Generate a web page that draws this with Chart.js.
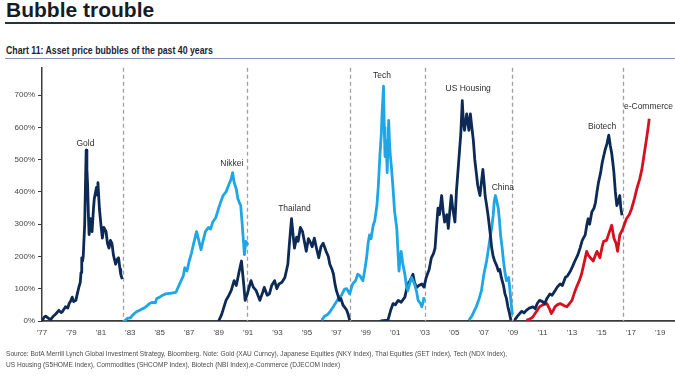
<!DOCTYPE html>
<html lang="en">
<head>
<meta charset="UTF-8">
<title>Bubble trouble</title>
<script src="https://cdn.jsdelivr.net/npm/chart.js"></script>
<style>
  body { margin: 0; width: 675px; height: 377px; background: #fff; overflow: hidden; position: relative; font-family: "Liberation Sans", Arial, sans-serif; }
  #title { position: absolute; left: 6px; top: -2px; font: bold 21px "Liberation Sans", Arial, sans-serif; color: #151c26; }
  #rule1 { position: absolute; left: 5px; right: 0; top: 22px; height: 2px; background: #27323f; }
  #subtitle { position: absolute; left: 6px; top: 45px; font: bold 10px "Liberation Sans", Arial, sans-serif; color: #1b2430;
              transform: scaleX(0.875); transform-origin: 0 0; white-space: nowrap; }
  #rule2 { position: absolute; left: 5px; right: 0; top: 58px; height: 1px; background: #7f97b0; }
  #wrap { position: absolute; left: 0; top: 60px; width: 675px; height: 290px; }
  #source { position: absolute; left: 6px; top: 349px; font: 7.7px "Liberation Sans", Arial, sans-serif; color: #4a4a4a; line-height: 10.8px;
            white-space: nowrap; transform: scaleX(0.855); transform-origin: 0 0; }
</style>
</head>
<body>
<div id="title">Bubble trouble</div>
<div id="rule1"></div>
<div id="subtitle">Chart 11: Asset price bubbles of the past 40 years</div>
<div id="rule2"></div>
<div id="wrap"><canvas id="chart" width="675" height="290"></canvas></div>
<div id="source">Source: BofA Merrill Lynch Global Investment Strategy, Bloomberg. Note: Gold (XAU Curncy), Japanese Equities (NKY Index), Thai Equities (SET Index), Tech (NDX Index),<br>US Housing (S5HOME Index), Commodities (SHCOMP Index), Biotech (NBI Index),e-Commerce (DJECOM Index)</div>

<script>
// [year, % gain from start of episode]
const gold = [[1977.0,0],[1977.15,12],[1977.25,15],[1977.45,8],[1977.6,5],[1977.75,14],[1977.9,20],[1978.05,28],[1978.15,33],[1978.3,26],[1978.4,30],[1978.6,44],[1978.75,40],[1978.85,55],[1978.95,62],[1979.05,74],[1979.15,60],[1979.3,64],[1979.4,85],[1979.5,104],[1979.6,120],[1979.65,150],[1979.7,196],[1979.75,185],[1979.8,200],[1979.9,300],[1980.0,530],[1980.05,470],[1980.1,420],[1980.15,330],[1980.2,268],[1980.3,317],[1980.4,277],[1980.5,350],[1980.55,378],[1980.62,395],[1980.7,414],[1980.75,390],[1980.8,429],[1980.9,348],[1981.0,300],[1981.1,257],[1981.2,290],[1981.35,277],[1981.45,240],[1981.55,226],[1981.65,250],[1981.75,241],[1981.85,205],[1982.0,176],[1982.1,190],[1982.2,196],[1982.3,160],[1982.35,145],[1982.45,130]];
const nikkei = [[1982.6,0],[1982.8,8],[1983.0,10],[1983.2,20],[1983.4,28],[1983.7,35],[1984.0,42],[1984.3,54],[1984.5,58],[1984.7,56],[1984.8,70],[1985.0,74],[1985.2,80],[1985.4,84],[1985.7,86],[1986.1,89],[1986.4,120],[1986.6,140],[1986.7,165],[1986.85,155],[1987.0,186],[1987.15,210],[1987.3,240],[1987.5,277],[1987.65,250],[1987.8,221],[1987.95,250],[1988.1,277],[1988.3,290],[1988.45,285],[1988.6,307],[1988.8,320],[1989.0,350],[1989.15,370],[1989.3,389],[1989.5,400],[1989.7,424],[1989.85,440],[1989.95,460],[1990.05,430],[1990.2,409],[1990.3,380],[1990.4,368],[1990.5,358],[1990.6,300],[1990.75,206],[1990.85,247],[1991.0,236]];
const thailand = [[1989.0,0],[1989.2,20],[1989.5,64],[1989.7,80],[1989.85,94],[1990.05,125],[1990.2,110],[1990.4,155],[1990.55,186],[1990.7,115],[1990.8,64],[1990.95,84],[1991.1,110],[1991.2,125],[1991.35,105],[1991.55,94],[1991.8,64],[1992.0,90],[1992.1,104],[1992.3,80],[1992.45,84],[1992.6,110],[1992.8,125],[1992.95,100],[1993.1,115],[1993.3,120],[1993.5,135],[1993.7,176],[1993.8,236],[1993.95,317],[1994.05,270],[1994.15,226],[1994.3,260],[1994.4,247],[1994.55,290],[1994.7,277],[1994.85,240],[1994.95,216],[1995.1,255],[1995.2,247],[1995.35,230],[1995.5,257],[1995.65,225],[1995.8,196],[1995.95,230],[1996.1,241],[1996.3,216],[1996.45,200],[1996.55,176],[1996.7,160],[1996.8,145],[1996.9,115],[1997.0,94],[1997.1,80],[1997.2,64],[1997.3,70],[1997.45,49],[1997.6,40],[1997.7,33],[1997.8,20],[1997.9,3]];
const tech = [[1996.0,3],[1996.2,15],[1996.4,20],[1996.55,28],[1996.8,45],[1997.0,60],[1997.2,74],[1997.35,80],[1997.55,99],[1997.7,100],[1997.9,84],[1998.1,115],[1998.3,125],[1998.45,145],[1998.6,140],[1998.8,125],[1998.95,165],[1999.05,196],[1999.15,240],[1999.25,267],[1999.35,255],[1999.5,297],[1999.6,310],[1999.75,358],[1999.85,420],[1999.95,510],[2000.05,580],[2000.1,642],[2000.2,728],[2000.25,600],[2000.3,510],[2000.38,560],[2000.45,460],[2000.55,622],[2000.6,560],[2000.65,520],[2000.75,470],[2000.85,409],[2000.95,340],[2001.1,287],[2001.25,155],[2001.32,190],[2001.4,216],[2001.5,180],[2001.65,145],[2001.75,110],[2001.85,94],[2002.0,120],[2002.1,135],[2002.2,125],[2002.3,115],[2002.45,90],[2002.55,64],[2002.7,55],[2002.8,44],[2002.9,60],[2002.95,74]];
const usHousing = [[2000.0,0],[2000.35,2],[2000.5,3],[2000.7,35],[2000.85,54],[2001.0,50],[2001.2,64],[2001.4,58],[2001.65,74],[2001.75,95],[2001.85,115],[2002.0,125],[2002.2,145],[2002.3,120],[2002.45,104],[2002.6,110],[2002.8,115],[2002.95,105],[2003.1,135],[2003.3,160],[2003.45,196],[2003.6,210],[2003.7,226],[2003.8,290],[2003.9,350],[2004.0,330],[2004.15,389],[2004.25,340],[2004.35,307],[2004.5,330],[2004.6,287],[2004.7,340],[2004.8,389],[2004.9,350],[2005.05,307],[2005.15,400],[2005.3,490],[2005.45,581],[2005.55,683],[2005.62,620],[2005.7,591],[2005.85,642],[2006.0,591],[2006.1,642],[2006.2,600],[2006.3,561],[2006.4,500],[2006.5,460],[2006.6,420],[2006.75,389],[2006.85,430],[2006.95,470],[2007.05,420],[2007.1,389],[2007.2,360],[2007.3,328],[2007.45,270],[2007.55,226],[2007.65,200],[2007.75,186],[2007.9,170],[2008.0,155],[2008.1,160],[2008.2,135],[2008.35,110],[2008.45,84],[2008.55,70],[2008.65,44],[2008.75,25],[2008.85,3]];
const china = [[2006.0,3],[2006.2,15],[2006.35,30],[2006.5,44],[2006.7,70],[2006.85,94],[2007.0,140],[2007.2,186],[2007.3,215],[2007.4,247],[2007.55,290],[2007.65,328],[2007.72,370],[2007.8,389],[2007.9,370],[2008.0,348],[2008.08,310],[2008.15,267],[2008.25,230],[2008.35,186],[2008.45,150],[2008.55,125],[2008.7,135],[2008.78,100],[2008.85,64],[2008.95,20]];
const biotech = [[2009.1,3],[2009.3,15],[2009.45,23],[2009.6,30],[2009.75,25],[2009.9,33],[2010.1,40],[2010.35,44],[2010.5,38],[2010.65,55],[2010.8,64],[2011.0,60],[2011.15,54],[2011.3,70],[2011.5,84],[2011.65,80],[2011.85,94],[2012.0,105],[2012.2,115],[2012.35,110],[2012.55,135],[2012.7,140],[2012.9,155],[2013.05,170],[2013.2,186],[2013.4,205],[2013.55,226],[2013.7,250],[2013.9,267],[2014.0,295],[2014.1,317],[2014.2,300],[2014.35,338],[2014.5,350],[2014.6,368],[2014.7,400],[2014.8,429],[2014.95,460],[2015.05,490],[2015.15,510],[2015.25,530],[2015.38,550],[2015.5,576],[2015.6,545],[2015.7,520],[2015.78,490],[2015.85,460],[2015.95,400],[2016.05,358],[2016.15,370],[2016.25,389],[2016.32,350],[2016.4,328]];
const eCommerce = [[2009.9,3],[2010.1,5],[2010.35,13],[2010.6,30],[2010.8,44],[2011.0,50],[2011.3,54],[2011.45,40],[2011.6,23],[2011.75,35],[2011.85,44],[2012.0,50],[2012.2,54],[2012.45,48],[2012.65,44],[2012.85,55],[2013.0,64],[2013.15,85],[2013.3,104],[2013.5,125],[2013.65,145],[2013.85,185],[2014.0,216],[2014.1,205],[2014.25,196],[2014.45,186],[2014.6,205],[2014.7,216],[2014.9,196],[2015.05,230],[2015.15,247],[2015.35,250],[2015.5,270],[2015.7,297],[2015.85,257],[2016.0,240],[2016.1,216],[2016.25,267],[2016.45,285],[2016.7,317],[2016.9,330],[2017.05,348],[2017.25,380],[2017.4,409],[2017.6,440],[2017.75,470],[2017.95,530],[2018.05,560],[2018.15,591],[2018.25,627]];

const xTicks = [1977,1979,1981,1983,1985,1987,1989,1991,1993,1995,1997,1999,2001,2003,2005,2007,2009,2011,2013,2015,2017,2019];
const yTicks = [0,100,200,300,400,500,600,700];
const dividerYears = [1982.5, 1990.9, 1997.9, 2003.0, 2008.9, 2016.5];

const labelText = ['Gold','Nikkei','Thailand','Tech','US Housing','China','Biotech','e-Commerce'];
const labelYear = [1979.95, 1989.9, 1994.15, 2000.1, 2005.95, 2008.3, 2015.05, 2018.2];
const labelPct  = [551, 487, 347, 761, 721, 414, 603, 666];

const NAVY = '#0c2a55', SKY = '#1ea6e6', RED = '#d3111f';

function series(pts, color) {
  return { data: pts.map(p => ({x: p[0], y: p[1]})), borderColor: color, borderWidth: 2.8,
           pointRadius: 0, tension: 0, fill: false, borderJoinStyle: 'round' };
}

const overlay = {
  id: 'overlay',
  beforeDatasetsDraw(chart) {
    const {ctx, chartArea, scales: {x}} = chart;
    ctx.save();
    ctx.setLineDash([4, 3]);
    ctx.strokeStyle = '#a0a0a0';
    ctx.lineWidth = 1.3;
    dividerYears.forEach(yr => {
      const px = Math.round(x.getPixelForValue(yr)) + 0.5;
      ctx.beginPath();
      ctx.moveTo(px, chartArea.top);
      ctx.lineTo(px, chartArea.bottom);
      ctx.stroke();
    });
    ctx.restore();
  },
  afterDatasetsDraw(chart) {
    const {ctx, scales: {x, y}} = chart;
    ctx.save();
    ctx.font = '8.5px "Liberation Sans", Arial, sans-serif';
    ctx.fillStyle = '#2e2e2e';
    ctx.textAlign = 'center';
    ctx.textBaseline = 'middle';
    labelText.forEach((t, i) => {
      ctx.fillText(t, x.getPixelForValue(labelYear[i]), y.getPixelForValue(labelPct[i]));
    });
    ctx.restore();
  }
};

new Chart(document.getElementById('chart'), {
  type: 'line',
  data: {
    datasets: [
      series(gold, NAVY), series(nikkei, SKY), series(thailand, NAVY), series(tech, SKY),
      series(usHousing, NAVY), series(china, SKY), series(biotech, NAVY), series(eCommerce, RED)
    ]
  },
  options: {
    responsive: false,
    animation: false,
    layout: { padding: { top: 3, right: 0, left: 0, bottom: 0 } },
    plugins: { legend: { display: false }, tooltip: { enabled: false } },
    scales: {
      x: {
        type: 'linear', min: 1977, max: 2020.0,
        afterBuildTicks: s => { s.ticks = xTicks.map(v => ({value: v})); },
        afterFit: s => { s.height = 29; },
        grid: { display: false, drawTicks: false },
        border: { display: true, color: '#3a3a3a', width: 1.8 },
        ticks: { padding: 7, color: '#444', font: { size: 8, family: '"Liberation Sans", Arial' },
                 maxRotation: 0, autoSkip: false,
                 callback: v => "'" + String(v).slice(2) }
      },
      y: {
        min: 0, max: 785,
        afterBuildTicks: s => { s.ticks = yTicks.map(v => ({value: v})); },
        afterFit: s => { s.width = 42; },
        grid: { drawOnChartArea: false, drawTicks: true, tickLength: 4, color: '#3a3a3a' },
        border: { display: true, color: '#3a3a3a', width: 1.5 },
        ticks: { padding: 3, color: '#444', font: { size: 8, family: '"Liberation Sans", Arial' },
                 callback: v => v + '%' }
      }
    }
  },
  plugins: [overlay]
});
</script>
</body>
</html>
